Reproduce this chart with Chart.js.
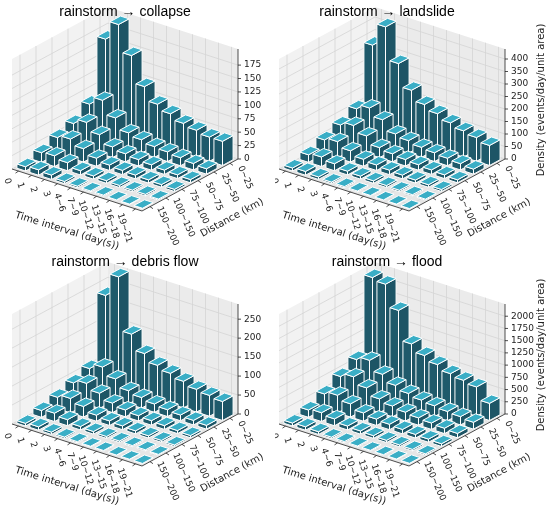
<!DOCTYPE html>
<html><head><meta charset="utf-8">
<script src="https://cdn.jsdelivr.net/npm/chart.js@4"></script>
<style>body{margin:0;background:#fff}#g{display:grid;grid-template-columns:275px 275px;grid-template-rows:250px 257px}canvas{display:block}</style>
</head><body><div id="g">
<canvas id="c0" width="275" height="250"></canvas><canvas id="c1" width="275" height="250"></canvas>
<canvas id="c2" width="275" height="257"></canvas><canvas id="c3" width="275" height="257"></canvas>
</div>
<script>
const timeLabels=["0","1","2","3","4~6","7~9","10~12","13~15","16~18","19~21"];
const distLabels=["0~25","25~50","50~75","75~100","100~150","150~200"];
const titles=["rainstorm → collapse","rainstorm → landslide","rainstorm → debris flow","rainstorm → flood"];
const collapse=[[165,200,150,100,75,65,55,50,45,45],[60,75,50,30,25,20,18,15,12,10],[40,50,35,20,15,12,10,8,7,6],[30,35,25,15,10,8,7,6,5,4],[18,20,15,8,6,5,4,3,3,2],[8,10,8,4,3,2,2,1,1,1]];
const landslide=[[330,420,290,200,160,140,120,105,95,80],[110,130,100,60,50,40,35,30,25,20],[80,95,70,40,32,26,22,18,15,12],[55,65,45,28,22,18,15,12,10,8],[30,38,28,15,12,10,8,6,5,4],[12,15,10,6,5,4,3,2,2,1]];
const debris=[[230,290,150,110,90,80,70,60,55,50],[60,75,55,35,28,22,18,15,12,10],[45,55,40,25,18,14,12,10,8,6],[30,38,28,16,12,10,8,6,5,4],[18,22,16,9,7,5,4,3,3,2],[7,9,6,4,3,2,2,1,1,1]];
const flood=[[2150,2100,1650,1050,900,800,700,650,600,350],[650,720,520,380,300,250,220,190,170,140],[480,560,420,280,220,180,150,130,110,90],[300,360,270,170,130,110,90,75,65,55],[150,180,140,80,65,55,45,38,32,28],[60,70,55,30,25,20,18,15,12,10]];
const zTicks=[[0,25,50,75,100,125,150,175],[0,50,100,150,200,250,300,350,400],[0,50,100,150,200,250],[0,250,500,750,1000,1250,1500,1750,2000]];
const zMax=[205,440,290,2250];
const datasets=[collapse,landslide,debris,flood];

const NT=timeLabels.length, ND=distLabels.length;
function makePanel(k){
  const cv=document.getElementById('c'+k);
  const H=cv.height;
  const vals=datasets[k];
  const ox=(k%2?134:142), oy=(k<2?211:216), TX=-130, TY=-42, DX=96, DY=-52, ZH=110;
  const plugin={id:'bars3d',afterDatasetsDraw(chart){
    const ctx=chart.ctx, sx=chart.scales.x, sy=chart.scales.y;
    const P=(t,d,z)=>{const u=t/NT,v=d/ND;
      return [sx.getPixelForValue(ox+(1-u)*TX+(1-v)*DX), sy.getPixelForValue(oy+(1-u)*TY+(1-v)*DY-z/zMax[k]*ZH)];};
    const poly=(pts,fill,stroke,lw)=>{ctx.beginPath();pts.forEach((p,i)=>i?ctx.lineTo(p[0],p[1]):ctx.moveTo(p[0],p[1]));ctx.closePath();
      if(fill){ctx.fillStyle=fill;ctx.fill();} if(stroke){ctx.strokeStyle=stroke;ctx.lineWidth=lw||1;ctx.stroke();}};
    const zm=zMax[k];
    poly([P(0,0,0),P(0,ND,0),P(0,ND,zm),P(0,0,zm)],'#f2f2f2');
    poly([P(0,0,0),P(NT,0,0),P(NT,0,zm),P(0,0,zm)],'#ebebeb');
    poly([P(0,0,0),P(NT,0,0),P(NT,ND,0),P(0,ND,0)],'#e6e6e6');
    ctx.lineWidth=0.8;ctx.strokeStyle='#d4d4d4';
    const line=(a,b)=>{ctx.beginPath();ctx.moveTo(a[0],a[1]);ctx.lineTo(b[0],b[1]);ctx.stroke();};
    zTicks[k].forEach(z=>{line(P(0,ND,z),P(0,0,z));line(P(0,0,z),P(NT,0,z));});
    for(let i=0;i<NT;i++){line(P(i+0.5,0,0),P(i+0.5,0,zm));line(P(i+0.5,0,0),P(i+0.5,ND,0));}
    for(let j=0;j<ND;j++){line(P(0,j+0.5,0),P(0,j+0.5,zm));line(P(0,j+0.5,0),P(NT,j+0.5,0));}
    const list=[];
    for(let j=0;j<ND;j++)for(let i=0;i<NT;i++)list.push([i,j,vals[j][i]]);
    list.sort((a,b)=>(a[0]*42/NT+a[1]*52/ND)-(b[0]*42/NT+b[1]*52/ND));
    const w=0.17;
    list.forEach(([i,j,z])=>{
      const t0=i+w,t1=i+1-w,d0=j+w,d1=j+1-w;
      poly([P(t1,d0,0),P(t1,d1,0),P(t1,d1,z),P(t1,d0,z)],'#1d5566','#ffffff',1);
      poly([P(t0,d1,0),P(t1,d1,0),P(t1,d1,z),P(t0,d1,z)],'#1f5a6b','#ffffff',1);
      poly([P(t0,d0,z),P(t1,d0,z),P(t1,d1,z),P(t0,d1,z)],'#3aaec6','#ffffff',1);
    });
    ctx.strokeStyle='#222';ctx.lineWidth=0.8;
    line(P(0,ND,0),P(NT,ND,0));line(P(NT,ND,0),P(NT,0,0));line(P(NT,0,0),P(NT,0,zm));
    ctx.fillStyle='#222';ctx.font='9px "DejaVu Sans"';
    const rtext=(s,x,y,ang,align)=>{ctx.save();ctx.translate(x,y);ctx.rotate(ang);ctx.textAlign=align||'left';ctx.textBaseline='middle';ctx.fillText(s,0,0);ctx.restore();};
    timeLabels.forEach((s,i)=>{const p=P(i+0.5,ND,0);line(p,[p[0]-3,p[1]+2]);rtext(s,p[0]-11,p[1]+8+s.length*2.2,1.25,'center');});
    distLabels.forEach((s,j)=>{const p=P(NT,j+0.5,0);line(p,[p[0]+3,p[1]+2]);rtext(s,p[0]+12+s.length*0.8,p[1]+7+s.length*1.8,1.15,'center');});
    zTicks[k].forEach(z=>{const p=P(NT,0,z);line(p,[p[0]+3,p[1]]);ctx.textAlign='left';ctx.textBaseline='middle';ctx.fillText(String(z),p[0]+6,p[1]);});
    ctx.font='10px "DejaVu Sans"';
    const a=P(NT/2,ND,0);rtext('Time interval (day(s))',a[0]-10,a[1]+41,0.3,'center');
    const b=P(NT,ND/2,0);rtext('Distance (km)',b[0]+42,b[1]+33,-0.5,'center');
    if(k%2==1){rtext('Density (events/day/unit area)',266,(k<2?100:105),-Math.PI/2,'center');}
    ctx.font='14px "Liberation Sans"';ctx.textAlign='center';ctx.textBaseline='middle';ctx.fillStyle='#000';
    ctx.fillText(titles[k],k%2?112:125,12);
  }};
  new Chart(cv,{type:'scatter',data:{datasets:[{data:[]}]},plugins:[plugin],
    options:{responsive:false,animation:false,layout:{padding:0},
      plugins:{legend:{display:false},tooltip:{enabled:false}},
      scales:{x:{type:'linear',min:0,max:275,display:false},y:{type:'linear',min:0,max:H,reverse:true,display:false}}}});
}
for(let k=0;k<4;k++)makePanel(k);
</script></body></html>
